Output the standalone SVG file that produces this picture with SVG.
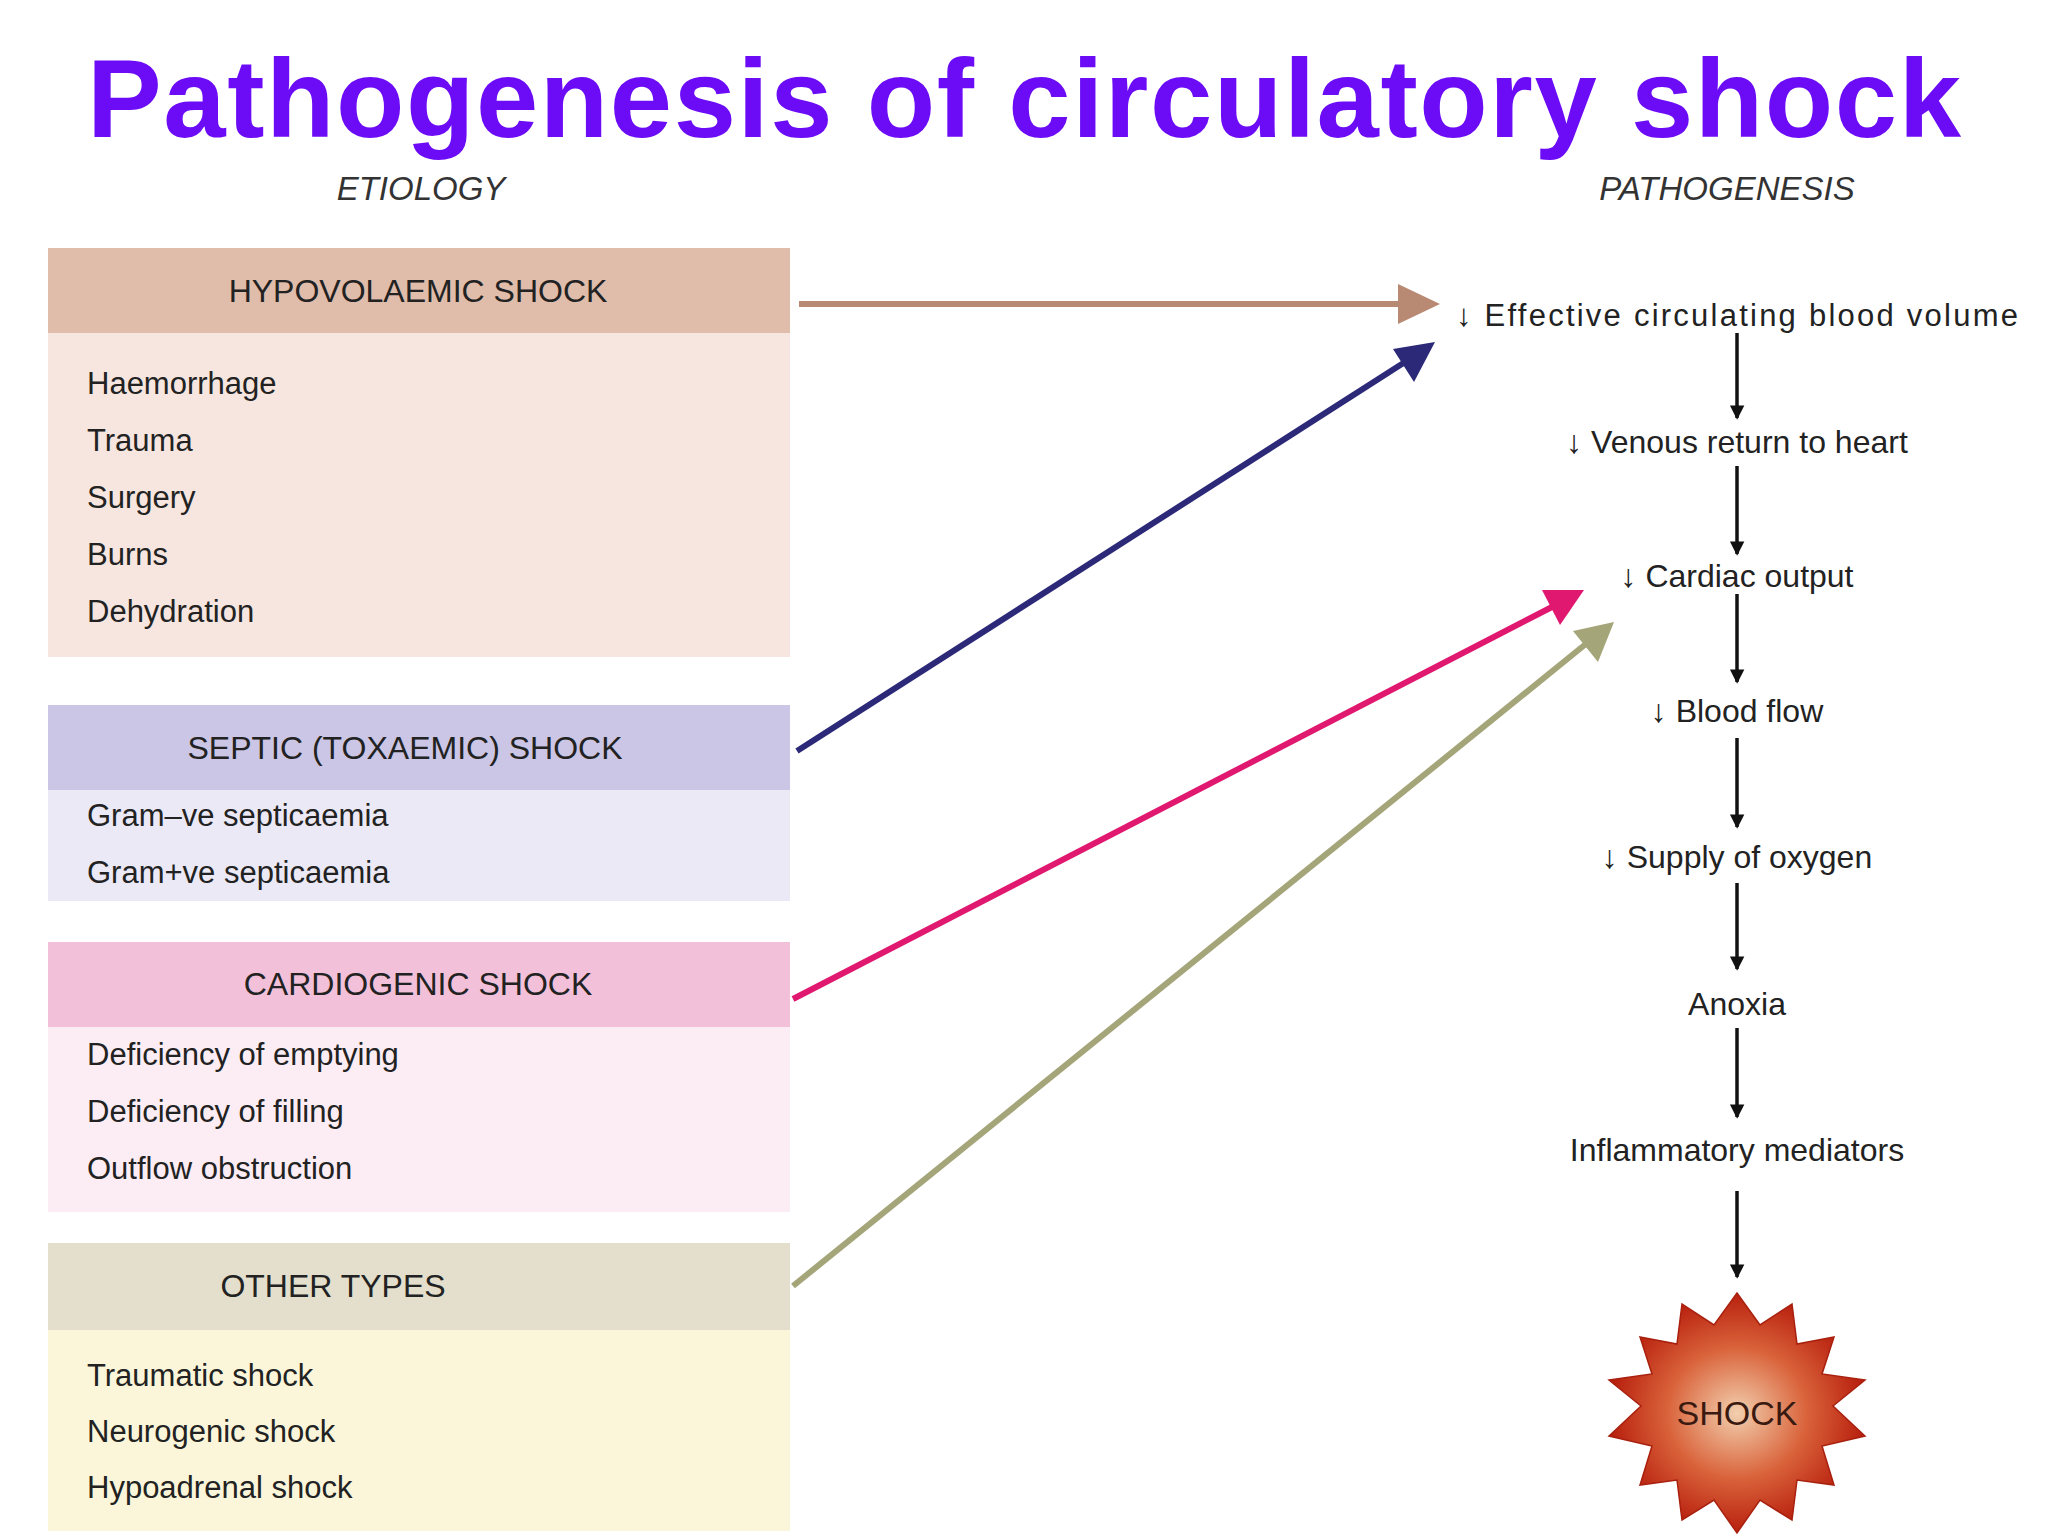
<svg xmlns="http://www.w3.org/2000/svg" width="2048" height="1536" viewBox="0 0 2048 1536">
<style>
text{font-family:"Liberation Sans",Arial,sans-serif;fill:#222}
.h{font-size:32px;text-anchor:middle}
.i{font-size:31px}
.p{font-size:32px;text-anchor:middle}
.e{font-size:33px;font-style:italic;text-anchor:middle;fill:#333}
.v{stroke:#111;stroke-width:3.5;fill:none;marker-end:url(#bk)}
</style>
<defs>
<marker id="bk" viewBox="0 0 10 10" refX="9" refY="5" markerWidth="7" markerHeight="6" markerUnits="userSpaceOnUse" orient="auto" style="overflow:visible"><path d="M0,0L10,5L0,10z" fill="#111" transform="scale(2.4) translate(-5,-3)"/></marker>
<radialGradient id="sg" cx="0.5" cy="0.5" r="0.5"><stop offset="0" stop-color="#f2cfae"/><stop offset="0.55" stop-color="#d9623a"/><stop offset="1" stop-color="#b8200e"/></radialGradient>
</defs>
<rect width="2048" height="1536" fill="#fff"/>
<text x="1024" y="137" font-size="112" font-weight="bold" text-anchor="middle" textLength="1874" style="fill:#6c0cf6" font-family="'Open Sans',sans-serif">Pathogenesis of circulatory shock</text>
<text class="e" x="421" y="200">ETIOLOGY</text>
<text class="e" x="1727" y="200">PATHOGENESIS</text>

<g id="hypo">
<rect x="48" y="248" width="742" height="85" fill="#e0bcab"/>
<rect x="48" y="333" width="742" height="324" fill="#f6e6df"/>
<text class="h" x="418" y="302">HYPOVOLAEMIC SHOCK</text>
<text class="i" x="87" y="394">Haemorrhage</text>
<text class="i" x="87" y="451">Trauma</text>
<text class="i" x="87" y="508">Surgery</text>
<text class="i" x="87" y="565">Burns</text>
<text class="i" x="87" y="622">Dehydration</text>
</g>
<g id="septic">
<rect x="48" y="705" width="742" height="85" fill="#cbc6e6"/>
<rect x="48" y="790" width="742" height="111" fill="#ebe9f5"/>
<text class="h" x="405" y="759">SEPTIC (TOXAEMIC) SHOCK</text>
<text class="i" x="87" y="826">Gram–ve septicaemia</text>
<text class="i" x="87" y="883">Gram+ve septicaemia</text>
</g>
<g id="cardio">
<rect x="48" y="942" width="742" height="85" fill="#f3c0da"/>
<rect x="48" y="1027" width="742" height="185" fill="#fcedf4"/>
<text class="h" x="418" y="995">CARDIOGENIC SHOCK</text>
<text class="i" x="87" y="1065">Deficiency of emptying</text>
<text class="i" x="87" y="1122">Deficiency of filling</text>
<text class="i" x="87" y="1179">Outflow obstruction</text>
</g>
<g id="other">
<rect x="48" y="1243" width="742" height="87" fill="#e3dfcc"/>
<rect x="48" y="1330" width="742" height="201" fill="#fbf6da"/>
<text class="h" x="333" y="1297">OTHER TYPES</text>
<text class="i" x="87" y="1386">Traumatic shock</text>
<text class="i" x="87" y="1442">Neurogenic shock</text>
<text class="i" x="87" y="1498">Hypoadrenal shock</text>
</g>

<g id="p1"><text class="i" x="1456" y="326" textLength="562">↓ Effective circulating blood volume</text></g>
<g id="p2"><text class="p" x="1737" y="453">↓ Venous return to heart</text></g>
<g id="p3"><text class="p" x="1737" y="587">↓ Cardiac output</text></g>
<g id="p4"><text class="p" x="1737" y="722">↓ Blood flow</text></g>
<g id="p5"><text class="p" x="1737" y="868">↓ Supply of oxygen</text></g>
<g id="p6"><text class="p" x="1737" y="1015">Anoxia</text></g>
<g id="p7"><text class="p" x="1737" y="1161">Inflammatory mediators</text></g>
<g id="shock">
<polygon fill="url(#sg)" stroke="#a8200e" stroke-width="1.5" points="1737,1293 1760,1325 1792,1304 1797,1344 1834,1337 1822,1374 1865,1380 1833,1406 1865,1436 1822,1446 1834,1485 1797,1480 1792,1520 1760,1500 1737,1533 1714,1500 1682,1520 1677,1480 1640,1485 1652,1446 1609,1436 1641,1406 1609,1380 1652,1374 1640,1337 1677,1344 1682,1304 1714,1325"/>
<text x="1737" y="1425" font-size="34" text-anchor="middle" style="fill:#3a1a10">SHOCK</text>
</g>

<g id="connectors">
<line class="v" x1="1737" y1="333" x2="1737" y2="418"/>
<line class="v" x1="1737" y1="466" x2="1737" y2="554"/>
<line class="v" x1="1737" y1="594" x2="1737" y2="682"/>
<line class="v" x1="1737" y1="738" x2="1737" y2="827"/>
<line class="v" x1="1737" y1="883" x2="1737" y2="969"/>
<line class="v" x1="1737" y1="1028" x2="1737" y2="1117"/>
<line class="v" x1="1737" y1="1191" x2="1737" y2="1277"/>
<line x1="799" y1="304" x2="1405" y2="304" stroke="#b88a74" stroke-width="6"/>
<polygon points="1440,304 1398,284 1398,324" fill="#b88a74"/>
<line x1="797" y1="751" x2="1405" y2="362" stroke="#2c2a78" stroke-width="6"/>
<polygon points="1435,342 1393,349 1414,382" fill="#2c2a78"/>
<line x1="793" y1="999" x2="1552" y2="607" stroke="#e0186f" stroke-width="6"/>
<polygon points="1584,590 1542,590 1560,625" fill="#e0186f"/>
<line x1="793" y1="1286" x2="1587" y2="643" stroke="#a5a57a" stroke-width="6"/>
<polygon points="1614,622 1573,631 1598,662" fill="#a5a57a"/>
</g>
</svg>
